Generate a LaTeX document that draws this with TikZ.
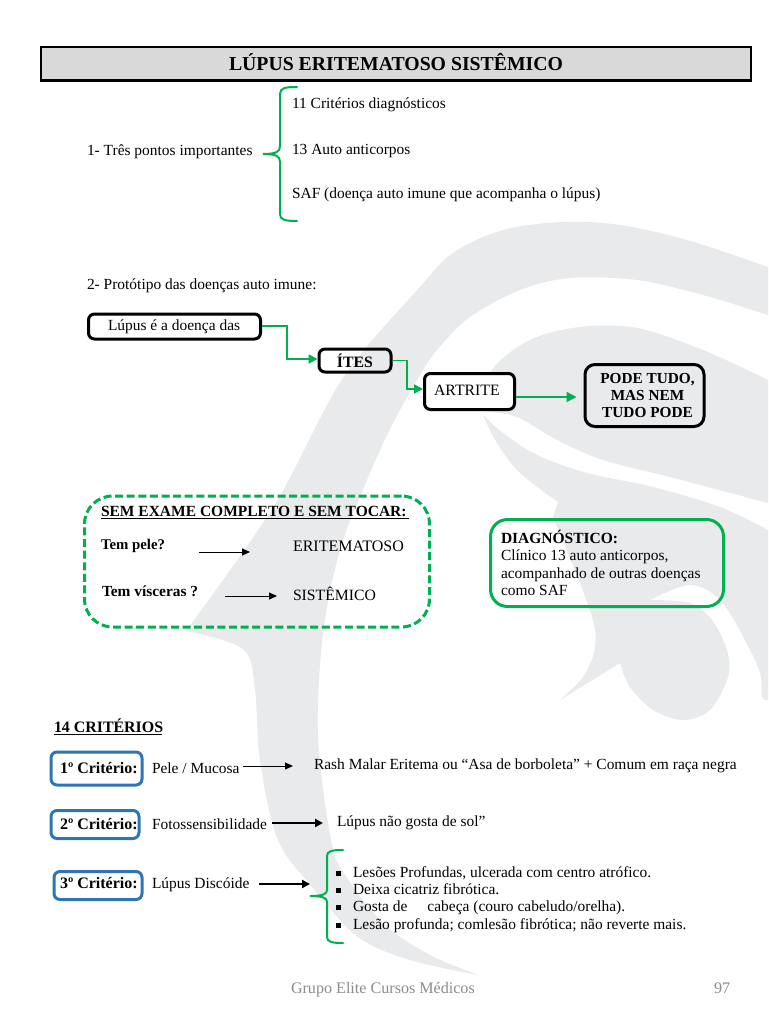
\documentclass[tikz,border=0pt]{standalone}
\usepackage{fontspec}
\setmainfont{Liberation Serif}
\usetikzlibrary{arrows.meta,calc}
\definecolor{wmgrey}{HTML}{E9EAEB}
\definecolor{gr}{HTML}{00B050}
\definecolor{bl}{HTML}{2E75B6}
\definecolor{foot}{HTML}{8C8C8C}
\definecolor{ttl}{HTML}{D9D9D9}
\newcommand{\bodyf}{\fontsize{15.45}{17.6}\selectfont}
\newcommand{\boldf}{\fontsize{14.8}{17.6}\selectfont\bfseries}
\newcommand{\hdf}{\fontsize{15.5}{17}\selectfont\bfseries}
\newcommand{\critf}{\fontsize{16}{17}\selectfont\bfseries}
\tikzset{
  wm/.style={fill=wmgrey,draw=none},
  txt/.style={anchor=base west,inner sep=0pt,outer sep=0pt,font=\bodyf,text=black},
  btxt/.style={anchor=base west,inner sep=0pt,outer sep=0pt,font=\boldf,text=black},
  blackbox/.style={draw=black,line width=3pt,rounded corners=6pt,inner sep=0pt},
  bluebox/.style={draw=bl,line width=3pt,rounded corners=6pt,inner sep=0pt},
  garrow/.style={draw=gr,line width=2.2pt,-{Triangle[length=9pt,width=9pt]}},
  karrow/.style={draw=black,line width=1pt,-{Triangle[length=8pt,width=7pt]}},
  kkarrow/.style={draw=black,line width=2pt,-{Triangle[length=8pt,width=8pt]}},
  brace/.style={draw=gr,line width=2pt,line cap=round},
  bul/.style={fill=black,inner sep=0pt,minimum size=5pt},
}
\begin{document}
\begin{tikzpicture}[x=1pt,y=-1pt]
\useasboundingbox[fill=white] (0,0) rectangle (768,1024);
% watermark
\fill[wm] plot[smooth,tension=0.55] coordinates {(186,631)(243,649)(255,690)(260,761)(278,840)(313,888)(358,937)(410,960)(478,975)}
  -- plot[smooth,tension=0.55] coordinates {(478,975)(430,955)(385,925)(345,875)(331,840)(318,736)(323,634)(340,550)(367,480)(392,425)(420,375)(437,350)(470,317)(520,290)(570,278)(637,280)(703,295)(768,315)}
  -- plot[smooth,tension=0.55] coordinates {(768,267)(687,240)(620,225)(563,222)(503,230)(453,253)(420,287)(343,378)(274,506)(186,631)} -- cycle;
\fill[wm] plot[smooth,tension=0.55] coordinates {(483,411)(492,370)(530,340)(580,327)(637,328)(703,350)(768,380)}
  -- plot[smooth,tension=0.55] coordinates {(768,503)(670,477)(603,460)(557,440)(517,417)(483,411)} -- cycle;
\fill[wm] plot[smooth,tension=0.55] coordinates {(483,415)(503,433)(537,455)(587,473)(653,487)(720,507)(768,530)}
  -- plot[smooth,tension=0.55] coordinates {(768,700)(762,697)(760,673)(745,640)(720,600)(690,585)(650,600)}
  -- plot[smooth,tension=0.55] coordinates {(650,600)(690,603)(712,620)(727,650)(728,677)(710,710)(683,720)(653,710)(630,687)(620,663)}
  -- plot[smooth,tension=0.55] coordinates {(560,700)(583,677)(595,647)(590,610)(553,517)}
  -- plot[smooth,tension=0.55] coordinates {(558,502)(520,473)(497,443)(483,415)} -- cycle;
% title
\node[draw=black,line width=1.4pt,fill=ttl,minimum width=710pt,minimum height=33pt,inner sep=0pt] (title) at (396,63.5) {};
\node[inner sep=0pt,font=\fontsize{19.75}{21}\selectfont\bfseries] (titletxt) at (396,62.5) {LÚPUS ERITEMATOSO SISTÊMICO};
\draw[black,line width=2.4pt] (title.south west) -- (title.south east);
% section 1
\node[txt] (p0) at (87,156) {1- Três pontos importantes};
\node[txt] (p1) at (292,109) {11 Critérios diagnósticos};
\node[txt] (p2) at (292,155) {13 Auto anticorpos};
\node[txt] (p3) at (292,199) {SAF (doença auto imune que acompanha o lúpus)};
\coordinate (b1t) at (297,87); \coordinate (b1b) at (297,221); \coordinate (b1m) at (263,154);
\draw[brace] (b1t) .. controls (285,87) and (280,88) .. (280,94) -- (280,146) .. controls (280,152) and (276,154) .. (b1m)
  .. controls (276,154) and (280,156) .. (280,162) -- (280,214) .. controls (280,220) and (285,221) .. (b1b);
% section 2
\node[txt] (s2) at (87,289) {2- Protótipo das doenças auto imune:};
\node[blackbox,minimum width=172pt,minimum height=25pt] (lup) at (174.5,326.5) {};
\node[txt] (luptxt) at (108,330) {Lúpus é a doença das};
\node[blackbox,minimum width=72pt,minimum height=23pt,font=\fontsize{15.8}{17}\selectfont\bfseries] (ites) at (355,360.5) {ÍTES};
\node[blackbox,fill=white,minimum width=90pt,minimum height=36pt] (art) at (469.5,391.5) {};
\node[txt,font=\fontsize{15.8}{17}\selectfont] (arttxt) at (434,395) {ARTRITE};
\node[blackbox,rounded corners=10pt,minimum width=119pt,minimum height=62pt] (pode) at (644.5,395.5) {};
\node[inner sep=0pt,align=center,font=\fontsize{15.3}{17.4}\selectfont\bfseries] (podetxt) at (647.5,395.5) {PODE TUDO,\\MAS NEM\\TUDO PODE};
\coordinate (c1) at (287,359);
\draw[garrow] (lup.east |- 0,326) -| (c1) -- (ites.west |- c1);
\coordinate (c2) at (407,389);
\draw[garrow,line width=1.8pt] (ites.east) -| (c2) -- (art.west |- c2);
\draw[draw=gr,line width=1.4pt,-{Triangle[length=10pt,width=10pt]},shorten >=7pt] (art.east |- 0,397) -- (pode.west |- 0,397);
% dashed box
\node[draw=gr,line width=3pt,dash pattern=on 8pt off 3.6pt,rounded corners=28pt,minimum width=345pt,minimum height=131pt,inner sep=0pt] (dash) at (257,561.5) {};
\node[btxt,font=\hdf] (sem) at (101,516) {SEM EXAME COMPLETO E SEM TOCAR:};
\draw[black,line width=1pt] (sem.base west) ++(0,2.5) -- (409,518.5);
\node[btxt] (pele) at (101,549) {Tem pele?};
\node[btxt,font=\fontsize{15.4}{17}\selectfont\bfseries] (visc) at (102,596) {Tem vísceras ?};
\node[txt,font=\fontsize{16}{17}\selectfont] (eri) at (293,551) {ERITEMATOSO};
\node[txt,font=\fontsize{15.7}{17}\selectfont] (sis) at (293,600) {SISTÊMICO};
\coordinate (a1s) at (199,552); \coordinate (a1e) at (250,552);
\draw[karrow] (a1s) -- (a1e);
\coordinate (a2s) at (225,596); \coordinate (a2e) at (277,596);
\draw[karrow] (a2s) -- (a2e);
% diagnostico
\node[draw=gr,line width=3pt,rounded corners=17pt,minimum width=233pt,minimum height=87pt,inner sep=0pt] (diag) at (607,563) {};
\node[txt,font=\hdf] (d1) at (501,543) {DIAGNÓSTICO:};
\node[txt] (d2) at (501,560) {Clínico 13 auto anticorpos,};
\node[txt] (d3) at (501,578) {acompanhado de outras doenças};
\node[txt] (d4) at (501,595) {como SAF};
% criterios
\node[btxt,font=\fontsize{15.9}{17}\selectfont\bfseries] (c14) at (54,732) {14 CRITÉRIOS};
\draw[black,line width=1pt] (c14.base west) ++(0,2.5) -- (162,734.5);
\node[bluebox,minimum width=91pt,minimum height=33pt] (k1) at (96.5,768.5) {};
\node[btxt,font=\critf] (k1t) at (60,773) {1º Critério:};
\node[txt] (k1a) at (152,773) {Pele / Mucosa};
\node[txt] (k1b) at (314,769) {Rash Malar Eritema ou “Asa de borboleta” + Comum em raça negra};
\coordinate (k1s) at (243,766); \coordinate (k1e) at (293,766);
\draw[karrow] (k1s) -- (k1e);
\node[bluebox,minimum width=88pt,minimum height=28pt] (k2) at (95,824.5) {};
\node[btxt,font=\critf] (k2t) at (60,829) {2º Critério:};
\node[txt] (k2a) at (152,829) {Fotossensibilidade};
\node[txt] (k2b) at (337,826) {Lúpus não gosta de sol”};
\coordinate (k2s) at (272,823); \coordinate (k2e) at (323,823);
\draw[kkarrow] (k2s) -- (k2e);
\node[bluebox,minimum width=88pt,minimum height=28pt] (k3) at (98,885.5) {};
\node[btxt,font=\critf] (k3t) at (60,888) {3º Critério:};
\node[txt] (k3a) at (152,888) {Lúpus Discóide};
\coordinate (k3s) at (259,884); \coordinate (k3e) at (310,884);
\draw[kkarrow] (k3s) -- (k3e);
\coordinate (b2t) at (343,850); \coordinate (b2b) at (343,943); \coordinate (b2m) at (310,896);
\draw[brace] (b2t) .. controls (332,850) and (327,851) .. (327,856) -- (327,890) .. controls (327,894) and (323,896) .. (b2m)
  .. controls (323,896) and (327,898) .. (327,902) -- (327,937) .. controls (327,942) and (332,943) .. (b2b);
\node[bul] (q1) at (338,873) {};
\node[bul] (q2) at (338,890) {};
\node[bul] (q3) at (338,907) {};
\node[bul] (q4) at (338,925) {};
\node[txt] (l1) at (353,877) {Lesões Profundas, ulcerada com centro atrófico.};
\node[txt] (l2) at (353,894) {Deixa cicatriz fibrótica.};
\node[txt] (l3) at (353,911) {Gosta de\hspace{20pt}cabeça (couro cabeludo/orelha).};
\node[txt] (l4) at (353,929) {Lesão profunda; comlesão fibrótica; não reverte mais.};
% footer
\node[txt,font=\fontsize{16.1}{18}\selectfont,text=foot] (ft) at (291,993) {Grupo Elite Cursos Médicos};
\node[txt,font=\fontsize{16.1}{18}\selectfont,text=foot] (pg) at (714,993) {97};
\end{tikzpicture}
\end{document}
